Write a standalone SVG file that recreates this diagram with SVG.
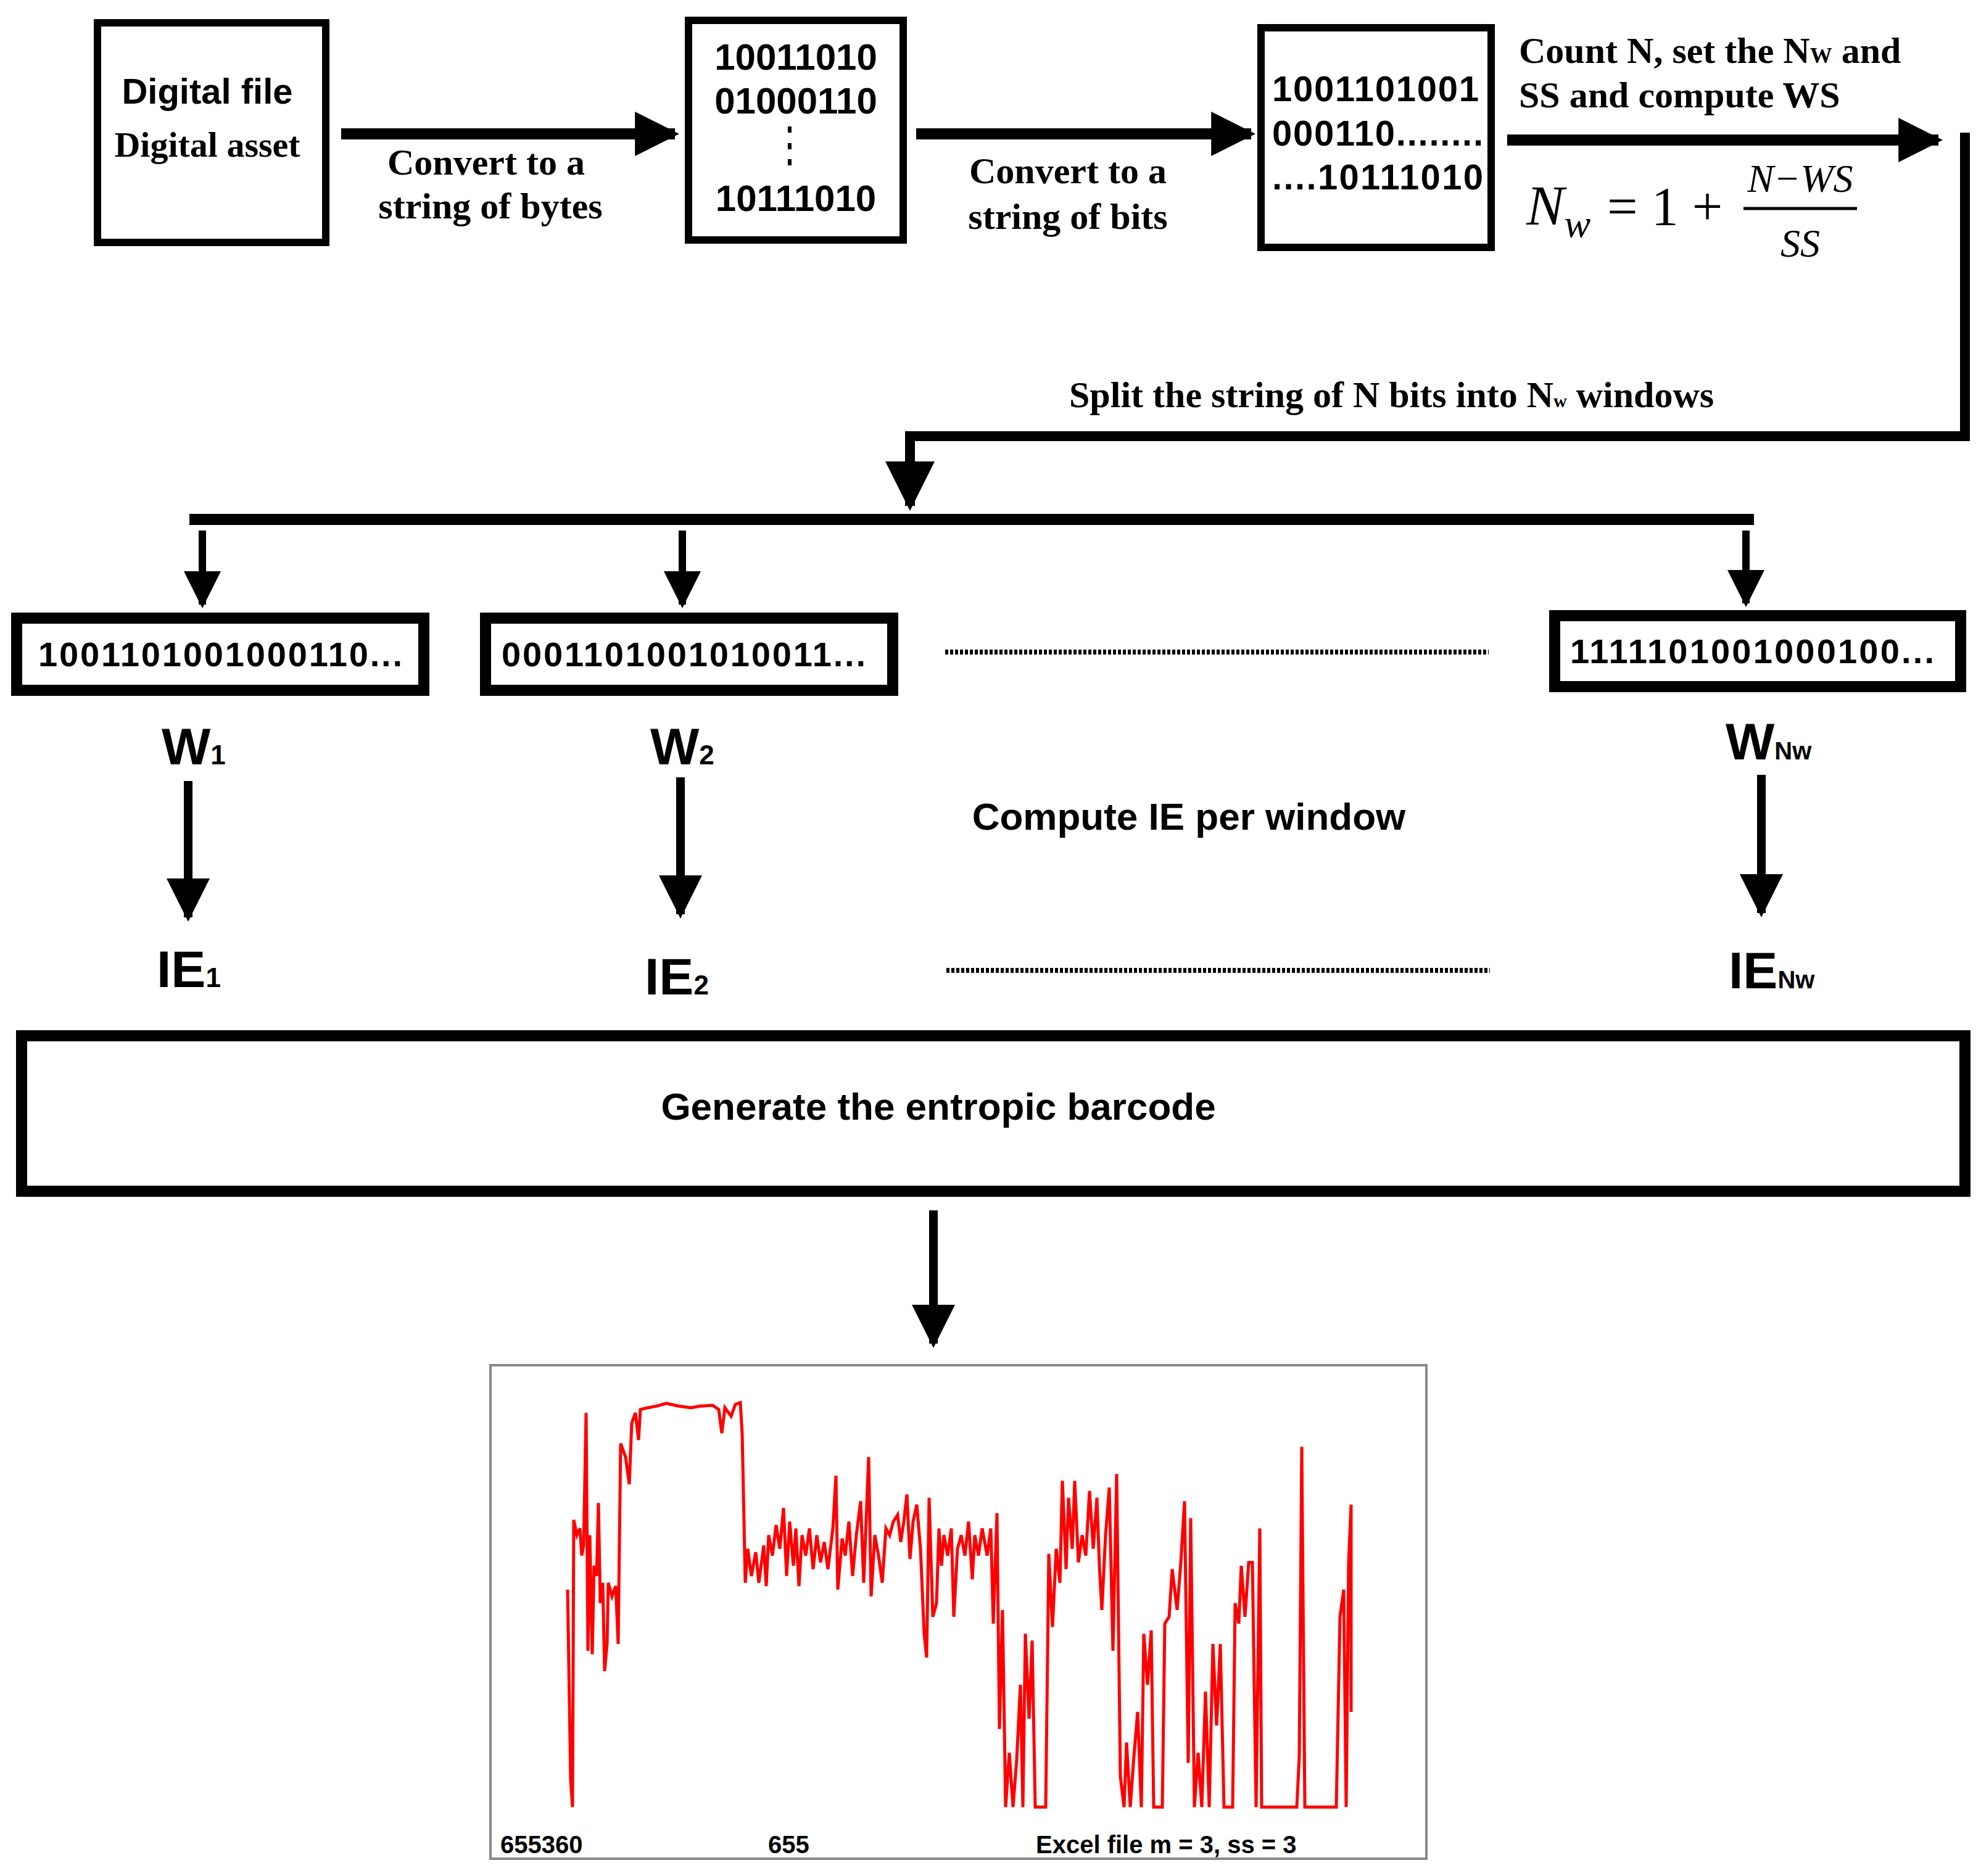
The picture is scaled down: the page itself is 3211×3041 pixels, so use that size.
<svg xmlns="http://www.w3.org/2000/svg" width="3211" height="3041" viewBox="0 0 3211 3041">
<style>
.box{fill:#fff;stroke:#000;stroke-width:12}
.wbox{fill:#fff;stroke:#000;stroke-width:18}
.ln{stroke:#000;fill:none}
.sans{font-family:"Liberation Sans",Arial,sans-serif;font-weight:bold;fill:#000}
.serif{font-family:"Liberation Serif","Times New Roman",serif;font-weight:bold;fill:#000}
.math{font-family:"Liberation Serif","Times New Roman",serif;font-style:italic;fill:#000}
</style>
<defs>
<marker id="ah" viewBox="0 0 10 10" refX="9" refY="5" markerWidth="4" markerHeight="4.5" markerUnits="strokeWidth" orient="auto"><path d="M0,0L10,5L0,10z" fill="#000"/></marker>
<marker id="ahs" viewBox="0 0 10 10" refX="9" refY="5" markerWidth="8" markerHeight="5" markerUnits="strokeWidth" orient="auto"><path d="M0,0L10,5L0,10z" fill="#000"/></marker>
</defs>
<rect width="3211" height="3041" fill="#fff"/>
<g id="n-file"><rect class="box" x="158" y="37" width="370" height="356"/>
<text class="sans" x="336" y="168" font-size="58" text-anchor="middle">Digital file</text>
<text class="serif" x="336" y="254" font-size="58" text-anchor="middle">Digital asset</text></g>
<g id="n-bytes"><rect class="box" x="1116" y="33" width="348" height="356"/>
<text class="sans" x="1290" y="113" font-size="60" text-anchor="middle">10011010</text>
<text class="sans" x="1290" y="184" font-size="60" text-anchor="middle">01000110</text>
<path d="M1280,205v10M1280,232v10M1280,258v10" stroke="#000" stroke-width="6"/>
<text class="sans" x="1290" y="342" font-size="60" text-anchor="middle">10111010</text></g>
<g id="n-bits"><rect class="box" x="2044" y="45" width="373" height="356"/>
<text class="sans" x="2062" y="164" font-size="58" textLength="335">1001101001</text>
<text class="sans" x="2062" y="236" font-size="58" textLength="342">000110........</text>
<text class="sans" x="2062" y="307" font-size="58" textLength="342">....10111010</text></g>
<g id="labels" class="serif" font-size="60">
<text x="788" y="283" text-anchor="middle">Convert to a</text>
<text x="795" y="354" text-anchor="middle">string of bytes</text>
<text x="1731" y="297" text-anchor="middle">Convert to a</text>
<text x="1731" y="371" text-anchor="middle">string of bits</text>
<text x="2462" y="102">Count N, set the N<tspan font-size="36">W</tspan> and</text>
<text x="2462" y="174">SS and compute WS</text>
<text x="1733" y="660">Split the string of N bits into N<tspan font-size="30">w</tspan> windows</text>
</g>
<g id="formula">
<text class="math" x="2474" y="364" font-size="92">N<tspan font-size="64" dy="20">w</tspan></text>
<text x="2605" y="364" font-size="88" font-family="Liberation Serif,serif" fill="#000">= 1 +</text>
<text class="math" x="2918" y="311" font-size="64" text-anchor="middle">N−WS</text>
<line x1="2826" y1="338" x2="3010" y2="338" stroke="#000" stroke-width="5"/>
<text class="math" x="2918" y="416" font-size="64" text-anchor="middle">SS</text>
</g>
<g id="connectors">
<line class="ln" x1="553" y1="217" x2="1094" y2="217" stroke-width="18" marker-end="url(#ah)"/>
<line class="ln" x1="1485" y1="217" x2="2028" y2="217" stroke-width="18" marker-end="url(#ah)"/>
<line class="ln" x1="2443" y1="227" x2="3142" y2="227" stroke-width="18" marker-end="url(#ah)"/>
<polyline class="ln" points="3185,215 3185,707 1475,707 1475,820" stroke-width="16" marker-end="url(#ahs)"/>
<line class="ln" x1="307" y1="842" x2="2843" y2="842" stroke-width="18"/>
<line class="ln" x1="328" y1="860" x2="328" y2="980" stroke-width="12" marker-end="url(#ahs)"/>
<line class="ln" x1="1106" y1="860" x2="1106" y2="980" stroke-width="12" marker-end="url(#ahs)"/>
<line class="ln" x1="2830" y1="860" x2="2830" y2="978" stroke-width="12" marker-end="url(#ahs)"/>
<line class="ln" x1="305" y1="1266" x2="305" y2="1487" stroke-width="14" marker-end="url(#ahs)"/>
<line class="ln" x1="1103" y1="1260" x2="1103" y2="1482" stroke-width="14" marker-end="url(#ahs)"/>
<line class="ln" x1="2855" y1="1256" x2="2855" y2="1480" stroke-width="14" marker-end="url(#ahs)"/>
<line class="ln" x1="1513" y1="1962" x2="1513" y2="2178" stroke-width="14" marker-end="url(#ahs)"/>
<line x1="1532" y1="1057" x2="2413" y2="1057" stroke="#000" stroke-width="8" stroke-dasharray="5,3"/>
<line x1="1534" y1="1573" x2="2415" y2="1573" stroke="#000" stroke-width="8" stroke-dasharray="5,3"/>
</g>
<g id="n-w1"><rect class="wbox" x="27" y="1002" width="660" height="117"/>
<text class="sans" x="357" y="1080" font-size="56" text-anchor="middle" textLength="590">1001101001000110...</text></g>
<g id="n-w2"><rect class="wbox" x="787" y="1002" width="660" height="117"/>
<text class="sans" x="1108" y="1080" font-size="56" text-anchor="middle" textLength="590">0001101001010011...</text></g>
<g id="n-wn"><rect class="wbox" x="2520" y="998" width="658" height="115"/>
<text class="sans" x="2840" y="1075" font-size="56" text-anchor="middle" textLength="590">1111101001000100...</text></g>
<g id="wlabels" class="sans">
<text x="262" y="1239" font-size="84">W<tspan font-size="44">1</tspan></text>
<text x="1054" y="1239" font-size="84">W<tspan font-size="44">2</tspan></text>
<text x="2797" y="1231" font-size="84">W<tspan font-size="40">Nw</tspan></text>
<text x="1927" y="1345" font-size="62" text-anchor="middle">Compute IE per window</text>
<text x="254" y="1600" font-size="84">IE<tspan font-size="44">1</tspan></text>
<text x="1045" y="1612" font-size="84">IE<tspan font-size="44">2</tspan></text>
<text x="2802" y="1602" font-size="84">IE<tspan font-size="40">Nw</tspan></text>
</g>
<g id="n-barcode"><rect class="wbox" x="35" y="1679" width="3150" height="252"/>
<text class="sans" x="1521" y="1815" font-size="62" text-anchor="middle">Generate the entropic barcode</text></g>
<g id="n-chart"><rect x="795" y="2213" width="1517" height="800" fill="#fff" stroke="#888" stroke-width="4"/>
<path transform="translate(780,2180) scale(1,0.551)" vector-effect="non-scaling-stroke" fill="none" stroke="#f00" stroke-width="5" d="M140,720L145,1280L148,1360L150,515L155,560L160,540L163,620L166,590L170,200L173,900L176,560L180,910L183,650L187,680L190,465L193,760L197,700L200,960L204,880L206,700L212,740L218,710L222,880L226,290L234,330L240,410L244,230L250,200L255,280L258,190L270,185L285,180L300,172L320,180L340,185L355,180L375,178L385,190L390,260L395,185L405,210L412,175L420,170L423,260L428,700L432,600L438,680L445,610L450,700L458,590L462,710L466,560L472,620L478,530L484,600L490,480L495,680L500,520L506,650L510,540L515,710L520,560L526,620L532,540L538,660L544,560L550,640L556,580L562,660L570,540L575,385L578,720L585,570L590,620L596,520L602,680L608,560L615,460L620,700L628,330L632,740L638,560L644,620L650,700L656,540L662,560L668,520L675,500L680,580L685,520L690,440L695,630L700,520L706,470L712,600L718,850L722,920L726,450L732,800L738,760L742,540L746,650L750,560L756,620L762,540L766,800L772,600L778,560L784,620L790,520L796,690L800,560L806,620L812,540L820,620L826,540L830,820L836,495L840,1130L845,780L850,1360L856,1200L862,1360L868,1220L874,1000L878,1360L882,850L888,1100L893,870L898,1360L915,1360L920,615L926,830L932,600L938,700L942,400L948,660L952,450L958,600L962,400L968,640L974,560L980,620L986,430L992,600L998,450L1002,650L1006,780L1012,560L1018,420L1024,900L1030,380L1036,1270L1042,1360L1046,1170L1052,1360L1058,1210L1064,1080L1070,1360L1074,850L1080,1000L1086,840L1090,1360L1104,1360L1108,820L1115,800L1120,660L1128,780L1134,640L1140,460L1146,1230L1150,510L1156,1360L1162,1200L1168,1360L1174,1020L1180,1360L1186,880L1192,1120L1198,880L1204,1360L1218,1360L1222,760L1228,820L1232,650L1238,800L1244,640L1250,640L1256,1360L1262,540L1265,1360L1322,1360L1326,1210L1330,300L1335,1360L1386,1360L1392,800L1398,720L1402,1360L1406,640L1410,470L1410,1080"/>
<text class="sans" x="811" y="3004" font-size="40">655360</text>
<text class="sans" x="1245" y="3004" font-size="40">655</text>
<text class="sans" x="1679" y="3004" font-size="40">Excel file  m = 3, ss = 3</text></g>
</svg>
